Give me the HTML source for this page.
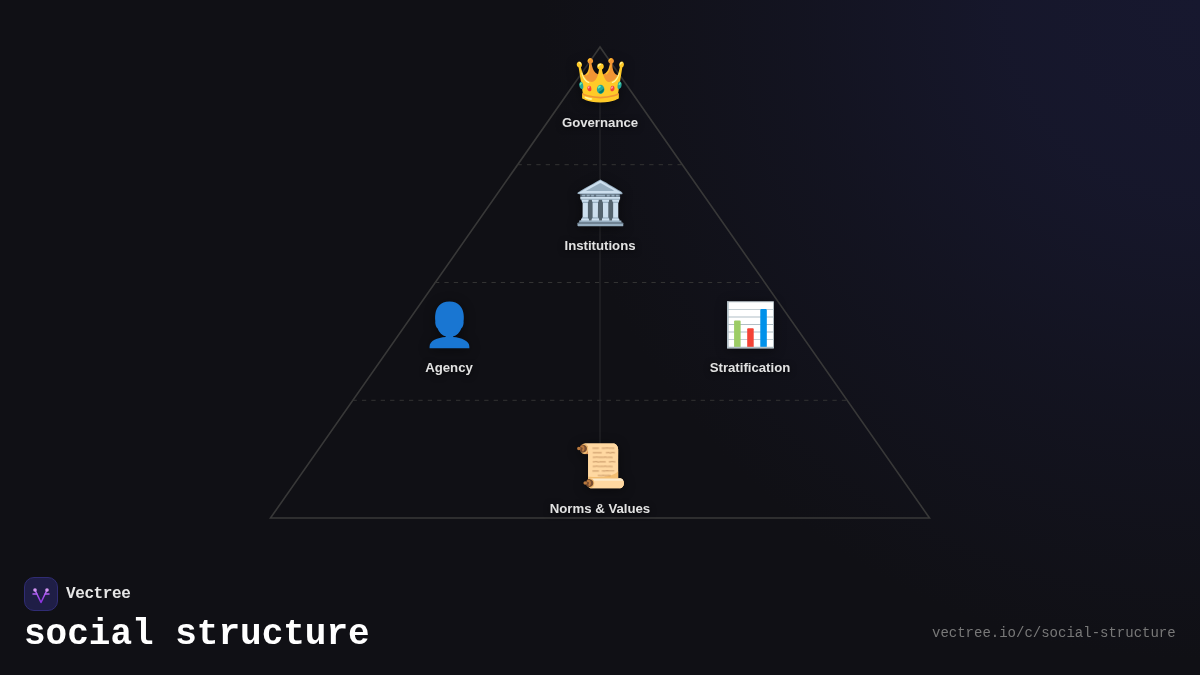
<!DOCTYPE html>
<html><head><meta charset="utf-8">
<style>
html,body{margin:0;padding:0;}
body{width:1200px;height:675px;overflow:hidden;position:relative;background:#101015;font-family:"Liberation Sans",sans-serif;}
.bg{position:absolute;left:0;top:0;width:1200px;height:675px;background:radial-gradient(circle 660px at 1200px 0px, rgba(23,24,47,1) 0px, rgba(23,24,47,0.84) 200px, rgba(23,24,47,0.44) 400px, rgba(23,24,47,0) 660px);}
svg{position:absolute;overflow:visible;}
.ic{filter:drop-shadow(0 2px 6px rgba(0,0,0,0.45));}
.lbl{will-change:transform;position:absolute;width:200px;text-align:center;font-weight:bold;font-size:13.2px;line-height:15px;color:#e2e2e2;white-space:nowrap;text-shadow:0 1px 6px rgba(0,0,0,0.7);}
.brand{position:absolute;left:24px;top:577px;width:34px;height:34px;box-sizing:border-box;border-radius:10px;background:#1f1e46;border:1px solid #302c74;}
.mono{will-change:transform;font-family:"Liberation Mono",monospace;position:absolute;white-space:nowrap;}
.bname{left:66px;top:585px;font-weight:bold;font-size:16px;line-height:18px;letter-spacing:-0.4px;color:#e6e6e6;}
.title{left:24px;top:615px;font-weight:bold;font-size:36px;line-height:40px;color:#fff;}
.url{right:24px;top:625px;font-size:14px;line-height:16px;color:#787878;}
</style></head><body>
<div class="bg"></div>
<svg style="left:0;top:0" width="1200" height="675" viewBox="0 0 1200 675">
<polygon points="600,47 270.5,518 929.5,518" fill="none" stroke="#383838" stroke-width="1.6"/>
<g stroke="#333" stroke-width="1" stroke-dasharray="4.3 5.11">
<line x1="517.5" y1="164.7" x2="682.5" y2="164.7"/>
<line x1="435" y1="282.5" x2="765" y2="282.5"/>
<line x1="352.5" y1="400.3" x2="847.5" y2="400.3"/>
</g>
<line x1="600" y1="85" x2="600" y2="460" stroke="#2a2a2e" stroke-width="1"/>
</svg>
<svg class="ic" style="left:574.14px;top:54.68px" width="52.917" height="49.805" viewBox="0 -950 1275 1200"><defs><path d="M334,-279 Q347,-273 356,-275.5 Q365,-278 368,-284 Q373,-292 367,-297.5 Q361,-303 356,-305 Q319,-319 291,-348.5 Q263,-378 243.5,-411.5 Q224,-445 212.5,-474.5 Q201,-504 196,-520 Q192,-533 182,-530 Q171,-526 176,-513 Q182,-492 192.5,-460 Q203,-428 220.5,-393 Q238,-358 265.5,-327.5 Q293,-297 334,-279 Z" id="crown_u1F451_22" fill="#FFF59D"/><path d="M336,-804 Q336,-800 340.5,-796 Q345,-792 350,-801 Q356,-809 362,-820 Q368,-831 393,-840 Q397,-841 402.5,-845 Q408,-849 405,-858 Q404,-862 398.5,-865.5 Q393,-869 383,-866 Q349,-855 342,-836 Q335,-817 336,-804 Z" id="crown_u1F451_19" fill="#FFCA28"/><path d="M975,-133 Q980,-160 967.5,-182.5 Q955,-205 932,-209 Q910,-213 898,-195 Q886,-177 881,-149 Q876,-122 881,-101 Q886,-80 909,-76 Q931,-72 950.5,-88.5 Q970,-105 975,-133 Z" id="crown_u1F451_11" fill="#F44336"/><path d="M1145,-211 Q1137,-171 1119.5,-154 Q1102,-137 1087,-133.5 Q1072,-130 1072,-130 Q1072,-130 1064,-135.5 Q1056,-141 1050.5,-161.5 Q1045,-182 1053,-228 Q1062,-273 1074,-290.5 Q1086,-308 1095.5,-310 Q1105,-312 1105,-312 Q1105,-312 1118,-304 Q1131,-296 1141.5,-274 Q1152,-252 1145,-211 Z" id="crown_u1F451_7" fill="#26A69A"/><path d="M924,-746 Q923,-718 925.5,-681 Q928,-644 937,-605.5 Q946,-567 964.5,-534 Q983,-501 1014,-481.5 Q1045,-462 1092,-465 Q1092,-465 1088.5,-444 Q1085,-423 1073,-392.5 Q1061,-362 1037.5,-331.5 Q1014,-301 975.5,-280 Q937,-259 879,-259 Q820,-259 779,-280 Q738,-301 711.5,-332 Q685,-363 670,-394 Q655,-425 649,-446 Q643,-467 643,-467 Q720,-478 763.5,-516.5 Q807,-555 829.5,-613.5 Q852,-672 865,-745 Q848,-753 837,-769.5 Q826,-786 826,-807 Q826,-835 846,-855 Q866,-875 894,-875 Q922,-875 942,-855 Q962,-835 962,-807 Q962,-787 951.5,-770.5 Q941,-754 924,-746 Z" id="crown_u1F451_0" fill="#F19534"/></defs><g id="crown_glyph3456"><use href="#crown_u1F451_0"/><use href="#crown_u1F451_0" x="1286.812" transform="matrix(-1 0 0 1 2573.624 0)"/><path d="M876,-259 L1002,-297 Q980,-280 949.5,-269.5 Q919,-259 878,-259 Q878,-259 877.5,-259 Q877,-259 876,-259 Z" fill="#FFCA28"/><path d="M1155,-792 Q1179,-789 1192.5,-765 Q1206,-741 1202,-711 Q1196,-667 1164,-650 L1044,93 Q1044,93 1023,105.5 Q1002,118 954.5,134.5 Q907,151 829,163 Q751,175 638,175 Q524,175 446.5,163 Q369,151 321.5,134.5 Q274,118 252.5,105.5 Q231,93 231,93 L112,-648 Q95,-654 82.5,-671 Q70,-688 67,-710 Q63,-740 78.5,-764 Q94,-788 120,-792 Q145,-795 166,-776 Q187,-757 192,-726 Q194,-705 187,-686.5 Q180,-668 167,-657 Q171,-636 182.5,-596.5 Q194,-557 212,-510 Q230,-463 257,-419 Q284,-375 319.5,-343.5 Q355,-312 401,-304 Q446,-297 479,-317.5 Q512,-338 534.5,-375.5 Q557,-413 571,-456.5 Q585,-500 592.5,-539.5 Q600,-579 603,-602 Q583,-612 570.5,-631 Q558,-650 558,-674 Q558,-707 581.5,-730.5 Q605,-754 638,-754 Q671,-754 694.5,-730.5 Q718,-707 718,-674 Q718,-650 705.5,-631 Q693,-612 673,-602 Q677,-579 685.5,-538.5 Q694,-498 709.5,-453.5 Q725,-409 747.5,-371 Q770,-333 801.5,-313.5 Q833,-294 875,-304 Q927,-317 963.5,-347.5 Q1000,-378 1023.5,-415.5 Q1047,-453 1060,-488 Q1073,-523 1078,-545.5 Q1083,-568 1083,-568 L1106,-661 Q1084,-687 1089,-726 Q1093,-756 1112.5,-775.5 Q1132,-795 1155,-792 Z" fill="#FFCA28"/><path d="M733,-122 Q733,-167 706,-199 Q679,-231 642,-231 Q604,-231 577,-199 Q550,-167 550,-122 Q550,-77 577,-45 Q604,-13 642,-13 Q679,-13 706,-45 Q733,-77 733,-122 Z" fill="#26A69A"/><path d="M642,-204 Q627,-220 608,-208 Q589,-196 579,-178 Q574,-170 572.5,-158.5 Q571,-147 579,-141 Q580,-140 583.5,-139.5 Q587,-139 592,-142 Q595,-144 606,-150 Q617,-156 627.5,-164 Q638,-172 642,-179 Q647,-189 645.5,-195 Q644,-201 642,-204 Z" fill="#69F0AE"/><path d="M635,-82 Q669,-98 694,-126 Q698,-131 703.5,-138 Q709,-145 717,-141 Q722,-138 721,-118 Q720,-98 708.5,-74.5 Q697,-51 670,-37 Q662,-33 653,-30.5 Q644,-28 635,-28 Q625,-28 616,-32 Q607,-36 602,-44 Q596,-53 602.5,-60.5 Q609,-68 619.5,-73.5 Q630,-79 635,-82 Z" fill="#00796B"/><use href="#crown_u1F451_7"/><path d="M1120,-285 Q1116,-291 1103,-290 Q1090,-289 1078,-263 Q1070,-244 1075,-227 Q1076,-224 1082,-223 Q1088,-222 1094,-226 Q1112,-238 1121,-255 Q1130,-272 1120,-285 Z" fill="#69F0AE"/><use href="#crown_u1F451_7" x="1273.594" y="2.437" transform="matrix(-1 0 0 1 2547.188 0)"/><path d="M185,-283 Q182,-285 169,-284.5 Q156,-284 143,-261 Q134,-244 141,-224 Q144,-215 150,-217 Q152,-217 155,-221 Q162,-229 168.5,-237 Q175,-245 183,-252 Q190,-259 192.5,-267 Q195,-275 185,-283 Z" fill="#69F0AE"/><use href="#crown_u1F451_11"/><use href="#crown_u1F451_11" x="1297.688" transform="matrix(-1 0 0 1 2595.376 0)"/><path d="M366,-157 Q371,-163 375,-172.5 Q379,-182 378,-189 Q376,-195 369,-198 Q362,-201 353,-195 Q343,-189 337,-173.5 Q331,-158 337,-146 Q341,-137 351,-144.5 Q361,-152 366,-157 Z" fill="#FFA8A4"/><path d="M900,-134 Q913,-132 924.5,-144.5 Q936,-157 939,-171 Q942,-185 932.5,-193 Q923,-201 914,-192 Q896,-174 894.5,-154.5 Q893,-135 900,-134 Z" fill="#FFA8A4"/><path d="M1061,-29 Q1061,-29 1071,-22.5 Q1081,-16 1081,-7 L1081,79 Q1081,98 1065,107 Q1043,120 990,140.5 Q937,161 850,177.5 Q763,194 638,194 Q513,194 426,177.5 Q339,161 286,140.5 Q233,120 211,107 Q195,98 195,79 L195,-7 Q195,-16 205,-22.5 Q215,-29 215,-29 Q243,-15 297,9.5 Q351,34 435,54 Q519,74 638,74 Q757,74 841,54 Q925,34 979,9.5 Q1033,-15 1061,-29 Z" fill="#FFCA28"/><path d="M409,89 Q362,80 333.5,70.5 Q305,61 287,55 Q255,43 255,66 Q255,80 271.5,94.5 Q288,109 342,124 Q360,128 382.5,130.5 Q405,133 422,129.5 Q439,126 441,111 Q443,100 435.5,96.5 Q428,93 409,89 Z" fill="#FFF59D"/><path d="M1070,6 Q1086,-3 1077,-20 Q1068,-36 1052,-27 Q1015,-6 944,16 Q802,59 638,59 Q474,59 332,16 Q261,-6 224,-27 Q216,-31 210,-30 Q203,-28 199,-20 Q190,-3 206,6 Q247,29 321,52 Q468,96 638,96 Q808,96 955,52 Q1029,29 1070,6 Z" fill="#F19534"/><path d="M290,-485 Q288,-484 282.5,-478 Q277,-472 284,-465 Q291,-459 302,-464 Q313,-469 315,-470 Q356,-499 370.5,-552 Q385,-605 386,-687 Q386,-691 384.5,-695 Q383,-699 377,-699 Q370,-698 369,-686 Q368,-610 348,-561 Q328,-512 290,-485 Z" fill="#FFCA28"/><use href="#crown_u1F451_19"/><path d="M771,-508 Q767,-504 762.5,-497.5 Q758,-491 764,-486 Q770,-480 779.5,-483.5 Q789,-487 794,-492 Q822,-523 838,-548 Q854,-573 864,-606 Q874,-639 882,-693 Q883,-697 882,-701 Q881,-705 875,-706 Q868,-706 866,-694 Q851,-618 828,-578 Q805,-538 771,-508 Z" fill="#FFCA28"/><use href="#crown_u1F451_19" x="501.188" y="0.844"/><use href="#crown_u1F451_22"/><path d="M156,-719 Q160,-711 168,-714 Q176,-717 175,-726 Q174,-732 170.5,-744 Q167,-756 157.5,-767 Q148,-778 131,-781 Q114,-783 110,-769 Q107,-758 120,-752 Q142,-743 147,-735 Q152,-727 156,-719 Z" fill="#FFF59D"/><use href="#crown_u1F451_22" x="1279.312" transform="matrix(-1 0 0 1 2558.624 0)"/><path d="M1123,-719 Q1119,-711 1111,-714 Q1103,-717 1104,-726 Q1105,-732 1108.5,-744 Q1112,-756 1121.5,-767 Q1131,-778 1149,-781 Q1165,-783 1169,-769 Q1172,-758 1159,-752 Q1137,-743 1132,-735 Q1127,-727 1123,-719 Z" fill="#FFF59D"/><path d="M594,-673 Q590,-664 581.5,-667.5 Q573,-671 574,-680 Q575,-691 584.5,-710.5 Q594,-730 623,-737 Q631,-739 643.5,-738 Q656,-737 658,-724 Q659,-711 643,-707 Q618,-702 608,-692 Q598,-682 594,-673 Z" fill="#FFF59D"/></g></svg>
<svg class="ic" style="left:574.00px;top:177.63px" width="52.917" height="49.805" viewBox="0 -950 1275 1200"><defs><path d="M106.479,-759.575 L129.609,-604.347 L1153.25,-757.122 L1130.12,-912.35 Z" id="inst_u1F3AC_10"/><path d="M378,-547 L378,-508 L307,-507 L307,-546 Z" id="inst_u1F3DB_8"/></defs><g id="inst_glyph2162"><path d="M636,-912 Q639,-912 667,-897 Q695,-882 739,-857 Q783,-832 836,-801.5 Q889,-771 942,-740 Q995,-709 1041,-681.5 Q1087,-654 1117.5,-634 Q1148,-614 1155,-607 Q1176,-586 1168.5,-572.5 Q1161,-559 1146,-558 Q1140,-557 1129,-557 Q1118,-557 1108.5,-557.5 Q1099,-558 1099,-558 L624,-518 L166,-559 Q166,-559 143.5,-559.5 Q121,-560 102,-562 Q83,-565 82.5,-582 Q82,-599 99,-608 Q102,-610 131.5,-627.5 Q161,-645 208,-672 Q255,-699 311,-731.5 Q367,-764 422.5,-796 Q478,-828 525,-854 Q572,-880 602,-896 Q632,-912 636,-912 Z" fill="#97AEC0"/><path d="M126,130 Q126,130 116.5,130.5 Q107,131 99,131 Q92,131 88,133 Q84,135 84,143 Q84,152 84,170 Q84,188 84,196 Q84,211 102,211 Q103,211 140,211 Q177,211 239,211 Q301,211 380.5,211 Q460,211 547.5,211 Q635,211 723,211 Q811,211 890.5,211 Q970,211 1032.5,211 Q1095,211 1131.5,211 Q1168,211 1171,211 Q1188,211 1188,199 Q1188,193 1188,174.5 Q1188,156 1188,147 Q1188,129 1179,129 Q1174,129 1158.5,129 Q1143,129 1143,129 Q1143,129 1143,112 Q1143,95 1143,86 Q1143,77 1137.5,74.5 Q1132,72 1124,72 Q1116,72 1105,71.5 Q1094,71 1094,71 L654,-72 L170,71 Q170,71 164,71 Q158,71 147,71 Q137,72 131.5,73 Q126,74 126,82 Q125,88 125,99.5 Q125,111 125.5,120.5 Q126,130 126,130 Z" fill="#97AEC0"/><path d="M84,154 Q84,154 84,149.5 Q84,145 84,141 Q84,131 91,131 Q103,131 114.5,130.5 Q126,130 126,130 L125,117 L1143,117 L1143,129 Q1143,129 1154.5,129 Q1166,129 1176,129 Q1180,129 1184,130 Q1188,131 1188,137 Q1188,142 1188,147.5 Q1188,153 1188,153 Z" fill="#647584"/><path d="M151,-560 L642,-562 L1111,-558 L1111,-482 L151,-484 Z" fill="#647584"/><path d="M111,-587 Q110,-589 137.5,-606 Q165,-623 211,-650 Q257,-677 312,-709 Q367,-741 423,-772.5 Q479,-804 526,-830 Q573,-856 603,-872 Q633,-888 635,-889 Q637,-889 660,-877 Q683,-865 720,-844 Q757,-823 803,-796 Q849,-769 896,-741 Q944,-713 988.5,-686 Q1033,-659 1067.5,-636.5 Q1102,-614 1121.5,-600 Q1141,-586 1140,-583 Q1139,-582 1097,-581.5 Q1055,-581 983.5,-581.5 Q912,-582 822.5,-582.5 Q733,-583 636,-583 Q538,-583 444.5,-582.5 Q351,-582 276,-582.5 Q201,-583 156,-584 Q111,-585 111,-587 Z" fill="#CDDFEE"/><path d="M636,-831 Q637,-830 662,-816.5 Q687,-803 726,-781 Q765,-759 808,-734.5 Q851,-710 889.5,-688 Q928,-666 952,-651.5 Q976,-637 975,-636 Q975,-635 946.5,-634.5 Q918,-634 870,-634 Q822,-634 762.5,-634.5 Q703,-635 641,-635 Q575,-635 511.5,-634.5 Q448,-634 396.5,-634 Q345,-634 314,-634 Q283,-634 283,-635 Q282,-636 307,-650.5 Q332,-665 372,-687.5 Q412,-710 457,-735 Q502,-760 542.5,-781.5 Q583,-803 609,-817 Q635,-831 636,-831 Z" fill="#97AEC0"/><path d="M151,-491 L1111,-490 L1111,-448 L1091,-438 Q1091,-438 1091.5,-422 Q1092,-406 1090,-394 Q1088,-383 1077.5,-374 Q1067,-365 1067,-365 L1067,21 Q1067,21 1077.5,25.5 Q1088,30 1092,40 Q1095,50 1094.5,61 Q1094,72 1094,72 L169,72 Q169,72 169,61 Q169,50 175,40 Q181,29 194,16 Q207,3 207,3 L208,-356 Q208,-356 207.5,-359 Q207,-362 203,-365 Q200,-368 195,-372.5 Q190,-377 185,-389 Q180,-401 181,-415 Q182,-429 182,-429 L152,-447 Z" fill="#CDDFEE"/><path d="M269,-546 L269,-507 L195,-508 L195,-546 Z" fill="#97AEC0"/><use href="#inst_u1F3DB_8" fill="#97AEC0"/><use href="#inst_u1F3AC_10" x="492.866" y="-363.219" transform="matrix(-0.063 0.037 0.009 0.246 527.38 -292.028)" fill="#97AEC0"/><path d="M747,-546 L747,-506 L534,-507 L534,-546 Z" fill="#97AEC0"/><path d="M861,-547 L860,-506 L791,-506 L793,-546 Z" fill="#97AEC0"/><path d="M975,-547 L975,-505 L905,-506 L906,-547 Z" fill="#97AEC0"/><path d="M1014,-547 L1077,-547 L1077,-505 L1013,-505 Z" fill="#97AEC0"/><path d="M191,-378 Q191,-378 194,-372.5 Q197,-367 200,-364 Q205,-358 206.5,-354 Q208,-350 208,-350 L1067,-352 Q1067,-352 1068,-355.5 Q1069,-359 1073,-362 Q1078,-367 1079,-372 Q1080,-377 1080,-377 Z" fill="#97AEC0"/><path d="M152,-451 L1111,-451 Q1111,-451 1111,-446.5 Q1111,-442 1111,-440 Q1111,-437 1108,-432.5 Q1105,-428 1097,-428 Q1095,-427 1056.5,-427 Q1018,-427 954.5,-427 Q891,-427 811.5,-427 Q732,-427 647.5,-427 Q563,-427 483.5,-426.5 Q404,-426 339.5,-426 Q275,-426 235,-426 Q195,-426 191,-426 Q165,-425 157,-432 Q151,-437 151.5,-444 Q152,-451 152,-451 Z" fill="#97AEC0"/><path d="M206,-3 L1067,0 Q1067,0 1067.5,4 Q1068,8 1069,12 Q1071,16 1074.5,20.5 Q1078,25 1078,25 L187,23 Q187,23 190.5,17.5 Q194,12 197,8 Q199,5 202.5,1 Q206,-3 206,-3 Z" fill="#97AEC0"/><path d="M354,-427 L431,-426 Q431,-426 431.5,-413 Q432,-400 435,-390 Q437,-381 442.5,-372 Q448,-363 448,-363 L449,6 Q449,6 442.5,13 Q436,20 430,30 Q424,40 423.5,56 Q423,72 423,72 L361,72 Q361,72 361,59 Q361,46 358,38 Q355,29 345,18 Q335,7 335,7 L335,-365 Q335,-365 339.5,-370 Q344,-375 348,-384 Q353,-394 353.5,-410.5 Q354,-427 354,-427 Z" fill="#54636E"/><path d="M597,-427 L677,-427 Q677,-427 677.5,-414 Q678,-401 681,-388 Q684,-375 691,-368 Q698,-361 698,-361 L700,3 Q700,3 691,10.5 Q682,18 678,28 Q674,37 674,54.5 Q674,72 674,72 L606,72 Q606,72 605.5,54.5 Q605,37 601,28 Q597,18 586,7.5 Q575,-3 575,-3 L579,-363 Q579,-363 583.5,-369 Q588,-375 592,-385 Q596,-395 596.5,-411 Q597,-427 597,-427 Z" fill="#54636E"/><path d="M846,-427 Q846,-427 846,-413 Q846,-399 844,-389 Q842,-380 834.5,-369.5 Q827,-359 827,-359 L826,2 Q826,2 835,10 Q844,18 847,24 Q852,36 851.5,54 Q851,72 851,72 L916,72 Q916,72 916.5,54 Q917,36 923,25 Q929,14 936,9 Q943,4 943,4 L944,-359 Q944,-359 936.5,-366.5 Q929,-374 925,-388 Q920,-401 920,-414 Q920,-427 920,-427 Z" fill="#54636E"/></g></svg>
<svg class="ic" style="left:422.99px;top:299.57px" width="52.917" height="49.805" viewBox="0 -950 1275 1200"><defs></defs><g id="person_glyph3472"><path d="M1117,175 Q1117,123 1085,82 Q1053,41 998,12 Q943,-17 872,-35 Q801,-53 723,-59 L723,-69 Q788,-88 842.5,-138.5 Q897,-189 925,-269 Q940,-275 951.5,-297.5 Q963,-320 970,-348.5 Q977,-377 979,-400 Q981,-423 977,-430 Q979,-442 981.5,-473.5 Q984,-505 983,-549 Q982,-593 972.5,-642.5 Q963,-692 941,-739.5 Q919,-787 880.5,-826 Q842,-865 782.5,-888.5 Q723,-912 638,-913 L638,-913 L638,-913 Q552,-912 492,-888 Q432,-864 393.5,-825 Q355,-786 333.5,-738 Q312,-690 302.5,-641 Q293,-592 291.5,-548 Q290,-504 293,-472 Q296,-440 297,-429 Q293,-422 295,-399 Q297,-376 304,-347.5 Q311,-319 322.5,-296.5 Q334,-274 349,-268 Q378,-188 432.5,-138 Q487,-88 552,-69 L552,-58 Q474,-53 403.5,-36.5 Q333,-20 277.5,8.5 Q222,37 190,78.5 Q158,120 158,175 L158,212 L1117,212 Z" fill="#1976D2"/></g></svg>
<svg class="ic" style="left:724.33px;top:299.59px" width="52.917" height="49.805" viewBox="0 -950 1275 1200"><defs><path d="M1181,-894 L94,-894 L94,194 L1181,194 L1181,-894 Z M1200,-913 L1200,-913 L1200,212 L75,212 L75,-913 Z" id="chart_u1F4C8_12" fill="#B0BEC5"/><path d="M95.344,-847.159 L95.344,-121.391 L1175.827,-121.391 L1175.827,-847.159 Z" id="chart_glyph01193_0"/></defs><g id="chart_glyph2267"><use href="#chart_glyph01193_0" x="-26.114" y="399.904" transform="matrix(1.041 0 0 1.548 1.065 -219.227)" fill="white"/><use href="#chart_glyph01193_0" x="1297.449" y="-734.602" transform="matrix(-1.027 0 0 -0.026 2629.8 -753.408)" fill="#B0BEC5"/><use href="#chart_glyph01193_0" x="1297.528" y="-553.477" transform="matrix(-1.028 0 0 -0.026 2631.126 -567.646)" fill="#B0BEC5"/><use href="#chart_glyph01193_0" x="1297.618" y="-372.352" transform="matrix(-1.029 0 0 -0.026 2632.607 -381.884)" fill="#B0BEC5"/><use href="#chart_glyph01193_0" x="1297.696" y="-191.227" transform="matrix(-1.03 0 0 -0.026 2633.934 -196.122)" fill="#B0BEC5"/><use href="#chart_glyph01193_0" x="1297.787" y="-10.008" transform="matrix(-1.031 0 0 -0.026 2635.415 -10.264)" fill="#B0BEC5"/><path d="M401,193 L401,-431 Q401,-440 394,-447 Q387,-454 377,-454 L266,-454 Q256,-454 249.5,-447 Q243,-440 243,-431 L243,193 Z" fill="#9CCC65"/><path d="M716,193 L716,193 L716,-248 Q716,-258 709.5,-264.5 Q703,-271 693,-271 L582,-271 Q572,-271 565.5,-264.5 Q559,-258 559,-248 L559,193 Z" fill="#F44336"/><path d="M1009,193 Q1019,193 1025.5,186 Q1032,179 1032,170 L1032,-708 Q1032,-717 1025.5,-724 Q1019,-731 1009,-731 L897,-731 Q888,-731 881,-724 Q874,-717 874,-708 L874,170 Q874,179 881,186 Q888,193 897,193 Z" fill="#0091EA"/><path d="M1200,175 L1200,212 L75,212 L75,-913 L113,-913 L113,175 Z" fill="#B0BEC5"/><use href="#chart_u1F4C8_12"/></g></svg>
<svg class="ic" style="left:574.05px;top:440.57px" width="52.917" height="49.805" viewBox="0 -950 1275 1200"><defs><path d="M312,64 Q312,47 300,34.5 Q288,22 271,22 Q253,22 241,34.5 Q229,47 229,64 Q229,82 241,94 Q253,106 271,106 Q288,106 300,94 Q312,82 312,64 Z" id="scroll_u1F4DC_21" fill="#BA793E"/><path d="M414,64 Q414,27 395.5,0.5 Q377,-26 351,-26 Q325,-26 306.5,0.5 Q288,27 288,64 Q288,102 306.5,128.5 Q325,155 351,155 Q377,155 395.5,128.5 Q414,102 414,64 Z" id="scroll_u1F4DC_19" fill="#784D30"/><path d="M1200,70 Q1200,21 1174,-13.5 Q1148,-48 1112,-48 Q1075,-48 1049.5,-13.5 Q1024,21 1024,70 Q1024,119 1049.5,154 Q1075,189 1112,189 Q1148,189 1174,154 Q1200,119 1200,70 Z" id="scroll_u1F4DC_1"/><path d="M1112,-48 Q1148,-48 1174,-13.5 Q1200,21 1200,70 Q1200,119 1174,154 Q1148,189 1112,189 Q1111,189 1110.5,189 Q1110,189 1109,189 Q1108,189 1107,189 Q1088,189 1041,189 Q994,189 929,189 Q864,189 792,189 Q720,189 650.5,189 Q581,189 524.5,189 Q468,189 434.5,189 Q401,189 401,189 Q401,189 392,182 Q383,175 371,155.5 Q359,136 350,99 Q341,62 341,3 Q341,-36 341,-99.5 Q341,-163 341,-239 Q341,-315 341,-393.5 Q341,-472 341,-542.5 Q341,-613 341,-666 Q341,-719 341,-743 Q340,-794 325.5,-823 Q311,-852 292.5,-866.5 Q274,-881 259.5,-885 Q245,-889 245,-889 Q245,-889 274.5,-889 Q304,-889 353.5,-889 Q403,-889 465.5,-889 Q528,-889 595.5,-889 Q663,-889 726.5,-889 Q790,-889 842.5,-889 Q895,-889 928,-889 Q961,-889 966,-889 Q979,-889 1002.5,-873.5 Q1026,-858 1045,-825.5 Q1064,-793 1064,-743 Q1064,-722 1064,-674 Q1064,-626 1063.5,-562 Q1063,-498 1063,-427.5 Q1063,-357 1063,-290 Q1063,-223 1063,-168 Q1063,-113 1063,-80.5 Q1063,-48 1063,-48 Q1063,-48 1075,-48 Q1087,-48 1099,-48 Q1111,-48 1112,-48 Z" id="scroll_u1F4DC_2" fill="#FFD8A1"/><path d="M95.344,-847.159 L95.344,-121.391 L1175.827,-121.391 L1175.827,-847.159 Z" id="scroll_glyph01193_0"/></defs><g id="scroll_glyph2278"><use href="#scroll_glyph01193_0" x="225.567" y="-610.232" transform="matrix(0.201 0 0 0.195 180.183 -491.359)" fill="#D68B52"/><use href="#scroll_u1F4DC_1" fill="#F2BD72"/><use href="#scroll_u1F4DC_2"/><use href="#scroll_u1F4DC_2"/><path d="M340,-5 L1063,-8 L1063,-223 Q1028,-182 972,-155 Q916,-128 848.5,-112.5 Q781,-97 710,-90 Q639,-83 573,-82 Q507,-81 454.5,-83.5 Q402,-86 371.5,-88.5 Q341,-91 341,-91 Z" fill="#F2BD72"/><g opacity="0.6"><path d="M464,-682 Q450,-682 450,-668 Q450,-654 464,-654 Q468,-654 475,-654 Q490,-654 497,-654 Q499,-654 504,-653 Q516,-653 523,-653 Q526,-654 532,-654 Q544,-656 549,-656 Q554,-656 563,-654 Q576,-652 584,-652 Q588,-652 595,-653 Q599,-654 601,-654 Q604,-654 612,-654 Q617,-654 619,-654 L659,-654 Q673,-654 673,-668 Q673,-682 659,-682 L619,-682 Q617,-682 613,-682 Q604,-682 599,-682 Q596,-682 590,-681 Q586,-680 584,-680 Q579,-680 568,-682 Q556,-684 550,-684 Q542,-684 528,-682 Q523,-682 521,-681 Q516,-681 506,-681 Q501,-682 497,-682 Q490,-682 475,-682 Q468,-682 464,-682 Z" fill="#9E673C" opacity="0.77"/><path d="M778,-682 Q764,-682 764,-668 Q764,-654 778,-654 Q780,-654 783,-654 Q795,-653 801,-654 Q805,-655 813,-657 Q824,-660 829,-659 Q833,-659 843,-655 Q855,-651 861,-650 Q876,-648 900,-655 Q914,-659 920,-660 Q925,-660 936,-659 Q955,-658 975,-655 Q989,-652 991,-666 Q992,-673 989,-677 Q986,-681 979,-682 Q958,-686 938,-688 Q925,-689 917,-688 Q908,-687 892,-682 Q874,-676 866,-678 Q862,-678 853,-681 Q840,-687 832,-687 Q822,-688 806,-684 Q800,-683 797,-682 Q793,-682 784,-682 Q780,-682 778,-682 Z" fill="#9E673C" opacity="0.77"/><path d="M464,-462 Q450,-462 450,-448 Q450,-434 464,-434 Q467,-434 473,-434 Q487,-434 494,-434 Q500,-435 510,-437 Q524,-440 531,-440 Q537,-439 551,-435 Q562,-432 568,-431 Q586,-428 618,-433 Q624,-433 627,-434 Q639,-435 664,-435 Q676,-434 682,-434 L754,-434 Q768,-434 768,-448 Q768,-462 754,-462 L682,-462 Q676,-462 665,-463 Q638,-464 623,-462 Q620,-461 614,-460 Q586,-456 573,-459 Q569,-459 559,-462 Q542,-467 532,-468 Q522,-468 505,-465 Q496,-463 491,-462 Q486,-462 474,-462 Q468,-462 464,-462 Z" fill="#9E673C" opacity="0.77"/><path d="M851,-462 Q837,-462 837,-448 Q837,-434 851,-434 Q853,-434 858,-434 Q867,-434 872,-434 Q881,-434 897,-438 Q903,-440 906,-440 Q915,-442 935,-439 Q944,-437 949,-437 Q950,-437 952,-436 Q975,-434 986,-434 Q1000,-434 1000,-448 Q1000,-455 996,-459 Q993,-462 986,-462 Q976,-462 955,-464 Q953,-465 952,-465 Q948,-465 939,-467 Q914,-471 901,-468 Q897,-467 890,-465 Q878,-462 872,-462 Q867,-462 858,-462 Q853,-462 851,-462 Z" fill="#9E673C" opacity="0.77"/><path d="M680,-243 Q666,-243 666,-229 Q666,-214 680,-214 Q683,-214 690,-215 Q708,-215 716,-214 Q733,-211 761,-217 Q773,-219 780,-219 Q792,-221 819,-218 Q830,-216 836,-216 Q857,-214 899,-216 Q911,-216 935,-215 Q953,-215 963,-215 Q977,-215 977,-229 Q977,-243 963,-243 Q954,-243 936,-243 Q911,-244 898,-244 Q858,-242 838,-244 Q833,-244 822,-246 Q792,-249 777,-247 Q769,-247 756,-244 Q732,-240 720,-242 Q710,-243 689,-243 Q683,-243 680,-243 Z" fill="#9E673C" opacity="0.77"/><path d="M455,-243 Q441,-243 441,-229 Q441,-214 455,-214 Q463,-214 477,-213 Q500,-211 511,-212 Q514,-212 519,-213 Q526,-214 530,-214 Q534,-214 545,-213 Q560,-212 568,-213 Q578,-214 590,-214 Q605,-214 605,-229 Q605,-243 590,-243 Q577,-243 565,-241 Q559,-241 547,-241 Q535,-242 528,-242 Q524,-242 516,-241 Q512,-241 509,-240 Q500,-240 480,-241 Q464,-243 455,-243 Z" fill="#9E673C" opacity="0.77"/><path d="M680,-791 Q666,-791 666,-777 Q666,-763 680,-763 Q683,-763 690,-763 Q708,-763 716,-762 Q733,-760 761,-765 Q773,-767 780,-768 Q792,-769 819,-766 Q830,-765 836,-764 Q857,-762 899,-764 Q911,-764 935,-763 Q953,-763 963,-763 Q977,-763 977,-777 Q977,-791 963,-791 Q954,-791 936,-792 Q911,-793 898,-792 Q858,-791 838,-792 Q833,-793 822,-794 Q792,-797 777,-796 Q769,-795 756,-792 Q732,-788 720,-790 Q710,-791 689,-791 Q683,-791 680,-791 Z" fill="#9E673C" opacity="0.77"/><path d="M455,-791 Q441,-791 441,-777 Q441,-763 455,-763 Q463,-763 477,-761 Q500,-760 511,-761 Q514,-761 519,-761 Q526,-762 530,-762 Q534,-762 545,-762 Q560,-761 568,-761 Q578,-763 590,-763 Q605,-763 605,-777 Q605,-791 590,-791 Q577,-791 565,-789 Q559,-789 547,-790 Q535,-791 528,-790 Q524,-790 516,-789 Q512,-789 509,-789 Q500,-788 480,-790 Q464,-791 455,-791 Z" fill="#9E673C" opacity="0.77"/><path d="M464,-572 Q450,-572 450,-557 Q450,-543 464,-543 Q476,-543 490,-542 Q501,-542 522,-547 Q533,-549 538,-550 Q549,-551 574,-546 Q586,-544 592,-543 Q610,-540 645,-543 Q649,-543 651,-543 Q653,-543 655,-543 Q670,-544 676,-544 Q680,-544 688,-543 Q698,-541 704,-541 Q713,-541 729,-545 Q737,-548 741,-548 Q752,-550 778,-545 Q804,-540 818,-541 Q824,-541 834,-543 Q841,-544 844,-544 Q853,-545 873,-544 L897,-541 L920,-539 Q934,-538 935,-552 Q936,-566 922,-567 L899,-570 L875,-572 Q853,-574 841,-573 Q837,-572 829,-571 Q820,-569 816,-569 Q806,-568 783,-573 Q753,-579 737,-576 Q731,-575 721,-573 Q709,-569 704,-569 Q700,-569 692,-571 Q682,-572 677,-572 Q669,-572 654,-571 Q651,-571 650,-571 Q648,-571 643,-571 Q611,-569 596,-571 Q590,-572 580,-574 Q551,-580 535,-578 Q528,-577 515,-574 Q499,-570 492,-570 Q477,-572 464,-572 Z" fill="#9E673C" opacity="0.77"/><path d="M464,-352 Q450,-352 450,-338 Q450,-324 464,-324 Q476,-324 490,-323 Q501,-322 522,-327 Q533,-330 538,-331 Q549,-332 574,-327 Q586,-325 592,-324 Q610,-321 645,-323 Q649,-324 651,-324 Q653,-324 655,-324 Q670,-325 676,-325 Q680,-325 688,-323 Q698,-322 704,-322 Q713,-322 729,-326 Q737,-328 741,-329 Q752,-331 778,-326 Q804,-321 818,-322 Q824,-322 834,-324 Q841,-325 844,-325 Q853,-326 873,-324 L896,-322 L920,-320 Q934,-319 935,-333 Q936,-347 922,-348 L899,-350 L875,-352 Q853,-354 841,-353 Q837,-353 829,-351 Q820,-350 816,-350 Q806,-349 783,-353 Q753,-359 737,-357 Q731,-356 721,-353 Q709,-350 704,-350 Q700,-350 692,-351 Q682,-353 677,-353 Q669,-353 654,-352 Q651,-352 650,-352 Q648,-352 643,-351 Q611,-349 596,-352 Q590,-352 580,-355 Q551,-360 535,-359 Q528,-358 515,-355 Q499,-351 492,-351 Q477,-352 464,-352 Z" fill="#9E673C" opacity="0.77"/><path d="M585,-133 Q578,-133 575,-130 Q571,-127 571,-119 Q571,-105 585,-105 Q588,-105 595,-106 Q598,-106 600,-106 Q603,-107 611,-105 Q615,-104 617,-104 Q650,-99 672,-104 Q677,-105 684,-107 Q694,-110 699,-111 Q710,-112 734,-108 Q756,-103 767,-103 Q777,-104 794,-107 Q817,-111 827,-108 Q840,-105 865,-105 Q869,-105 872,-105 Q886,-105 886,-119 Q886,-133 872,-133 Q869,-133 865,-133 Q843,-133 834,-135 Q819,-139 789,-134 Q774,-132 767,-132 Q758,-132 739,-135 Q710,-141 695,-138 Q688,-138 676,-134 Q670,-132 666,-131 Q649,-128 622,-132 Q620,-132 616,-133 Q605,-135 598,-134 Q596,-134 591,-134 Q587,-133 585,-133 Z" fill="#9E673C" opacity="0.77"/></g><path d="M396,-48 L1063,-48 Q1063,-48 1075,-48 Q1087,-48 1099,-48 Q1111,-48 1112,-48 Q1136,-48 1156,-32 Q1176,-16 1187,10 L396,10 Z" fill="#FCEBCD"/><use href="#scroll_u1F4DC_1" x="-711.188" fill="#F2BD72"/><path d="M466,64 Q466,27 447,5.5 Q428,-16 403,-23 Q379,-30 359.5,-27.5 Q340,-25 340,-25 L340,153 Q340,153 354.5,156.5 Q369,160 401,152 Q426,145 446,123.5 Q466,102 466,64 Z" fill="#784D30"/><use href="#scroll_u1F4DC_19"/><use href="#scroll_u1F4DC_19"/><use href="#scroll_u1F4DC_21"/><path d="M347,38 Q341,37 331.5,35.5 Q322,34 322,34 Q311,32 310,24.5 Q309,17 312,10 Q320,-7 329.5,-12 Q339,-17 351,-17 Q375,-17 391.5,7 Q408,31 408,64 Q408,85 398,106.5 Q388,128 375,136 Q366,143 361.5,138 Q357,133 353,122 Q350,114 347,105 Q344,96 349,92 Q367,73 361.5,57 Q356,41 347,38 Z" fill="#BA793E"/><use href="#scroll_u1F4DC_1" x="-945.553" y="-836.769" transform="matrix(1.073 0 0 1.073 69.025 61.084)" fill="#F2BD72"/><path d="M312,-768 Q312,-805 293,-826.5 Q274,-848 249,-855 Q225,-862 205.5,-859.5 Q186,-857 186,-857 L186,-679 Q186,-679 200.5,-675.5 Q215,-672 248,-680 Q273,-687 292.5,-708.5 Q312,-730 312,-768 Z" fill="#784D30"/><use href="#scroll_u1F4DC_19" x="-153.656" y="-831.938"/><use href="#scroll_u1F4DC_19" x="-153.656" y="-831.844"/><use href="#scroll_u1F4DC_21" x="-153.75" y="-831.938"/><path d="M193,-793 Q187,-795 177.5,-796.5 Q168,-798 168,-798 Q157,-800 156,-807.5 Q155,-815 158,-822 Q166,-839 176,-844 Q186,-849 198,-849 Q221,-849 237.5,-825 Q254,-801 254,-768 Q254,-747 244,-725.5 Q234,-704 221,-696 Q212,-689 208,-694 Q204,-699 200,-709 Q196,-718 193,-727 Q190,-736 195,-740 Q214,-759 208,-775 Q202,-791 193,-793 Z" fill="#BA793E"/></g></svg>
<div class="lbl" style="left:500px;top:115px">Governance</div>
<div class="lbl" style="left:500px;top:238px">Institutions</div>
<div class="lbl" style="left:348.9px;top:360px">Agency</div>
<div class="lbl" style="left:650px;top:360px">Stratification</div>
<div class="lbl" style="left:500px;top:501px">Norms &amp; Values</div>

<div class="brand"></div>
<svg style="left:0;top:0" width="80" height="675" viewBox="0 0 80 675">
<defs><linearGradient id="lg" x1="0" y1="588" x2="0" y2="603" gradientUnits="userSpaceOnUse"><stop offset="0" stop-color="#c77dff"/><stop offset="1" stop-color="#8a2be2"/></linearGradient></defs>
<g fill="none" stroke="url(#lg)" stroke-width="1.5" stroke-linecap="round" stroke-linejoin="round">
<path d="M35 590 L41 602.5 L47 590"/>
<path d="M33 594 L36.8 594 M45.2 594 L49 594"/>
</g>
<circle cx="35" cy="590" r="1.8" fill="#d394f2"/><circle cx="47" cy="590" r="1.8" fill="#d394f2"/>
</svg>
<div class="mono bname">Vectree</div>
<div class="mono title">social structure</div>
<div class="mono url">vectree.io/c/social-structure</div>
</body></html>
